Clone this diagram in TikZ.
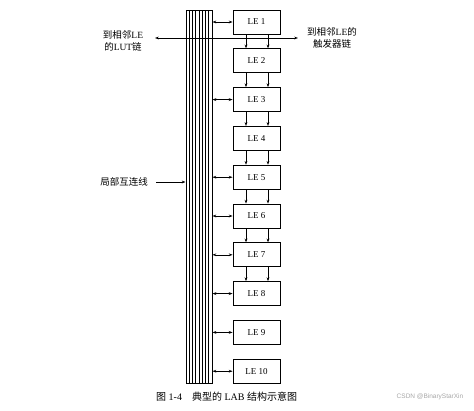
\documentclass[tikz,border=0pt]{standalone}
\usepackage{fontspec}
\setmainfont{Liberation Serif}
\newfontfamily\cjk{Noto Sans CJK SC}
\newfontfamily\wmfont{Liberation Sans}
\usetikzlibrary{arrows.meta}
\begin{document}
\begin{tikzpicture}[x=1pt,y=-1pt,
  lebox/.style={draw, line width=0.9pt, minimum width=47pt, minimum height=24pt, inner sep=0pt, font=\fontsize{9}{10}\selectfont},
  tipone/.style={-{Stealth[length=3.8pt,width=2.8pt]}, line width=0.6pt},
  tiptwo/.style={{Stealth[length=3.8pt,width=2.8pt]}-{Stealth[length=3.8pt,width=2.8pt]}, line width=0.6pt},
  lbl/.style={font=\fontsize{9.5}{12}\selectfont, align=center, inner sep=1pt}]
\useasboundingbox (0,0) rectangle (474,410);
% bus
\node[draw, line width=1pt, minimum width=26pt, minimum height=373pt, inner sep=0pt] (bus) at (199,196.5) {};
\foreach \i in {1,...,7} \draw[line width=0.6pt] (186+\i*3.25,10) -- (186+\i*3.25,383);
% LE boxes
\foreach \i in {1,...,10} \node[lebox] (le\i) at (256.5,{22+38.8*(\i-1)}) {LE \i};
% carry arrows
\foreach \i in {1,...,7} {
  \pgfmathtruncatemacro\j{\i+1}
  \draw[tipone] ([xshift=-10.5pt]le\i.south) -- ([xshift=-10.5pt]le\j.north);
  \draw[tipone] ([xshift=11.5pt]le\i.south) -- ([xshift=11.5pt]le\j.north);
}
% bus to LE arrows
\foreach \i in {1,3,5,6,7,8,9,10} \draw[tiptwo] (bus.east |- le\i.west) -- (le\i.west);
% chain line
\coordinate (lutend) at (155,38);
\coordinate (ffend) at (298,38);
\draw[tiptwo] (lutend) -- (ffend);
\node[lbl] (lut) at (123,41) {{\cjk 到相邻}LE\\{\cjk 的}LUT{\cjk 链}};
\node[lbl] (ff) at (332,37.5) {{\cjk 到相邻}LE{\cjk 的}\\{\cjk 触发器链}};
% local interconnect
\node[lbl] (local) at (124,182) {\cjk 局部互连线};
\coordinate (lstart) at (156,182);
\draw[tipone] (lstart) -- (lstart -| bus.west);
% caption
\node[anchor=west, font=\fontsize{10}{12}\selectfont, inner sep=0pt] (cap) at (156,397) {{\cjk 图} 1-4\quad{\cjk 典型的} LAB {\cjk 结构示意图}};
\node[text=black!35, font=\wmfont\fontsize{6.5}{8}\selectfont, inner sep=0pt] (wm) at (430,397) {CSDN @BinaryStarXin};
\end{tikzpicture}
\end{document}
